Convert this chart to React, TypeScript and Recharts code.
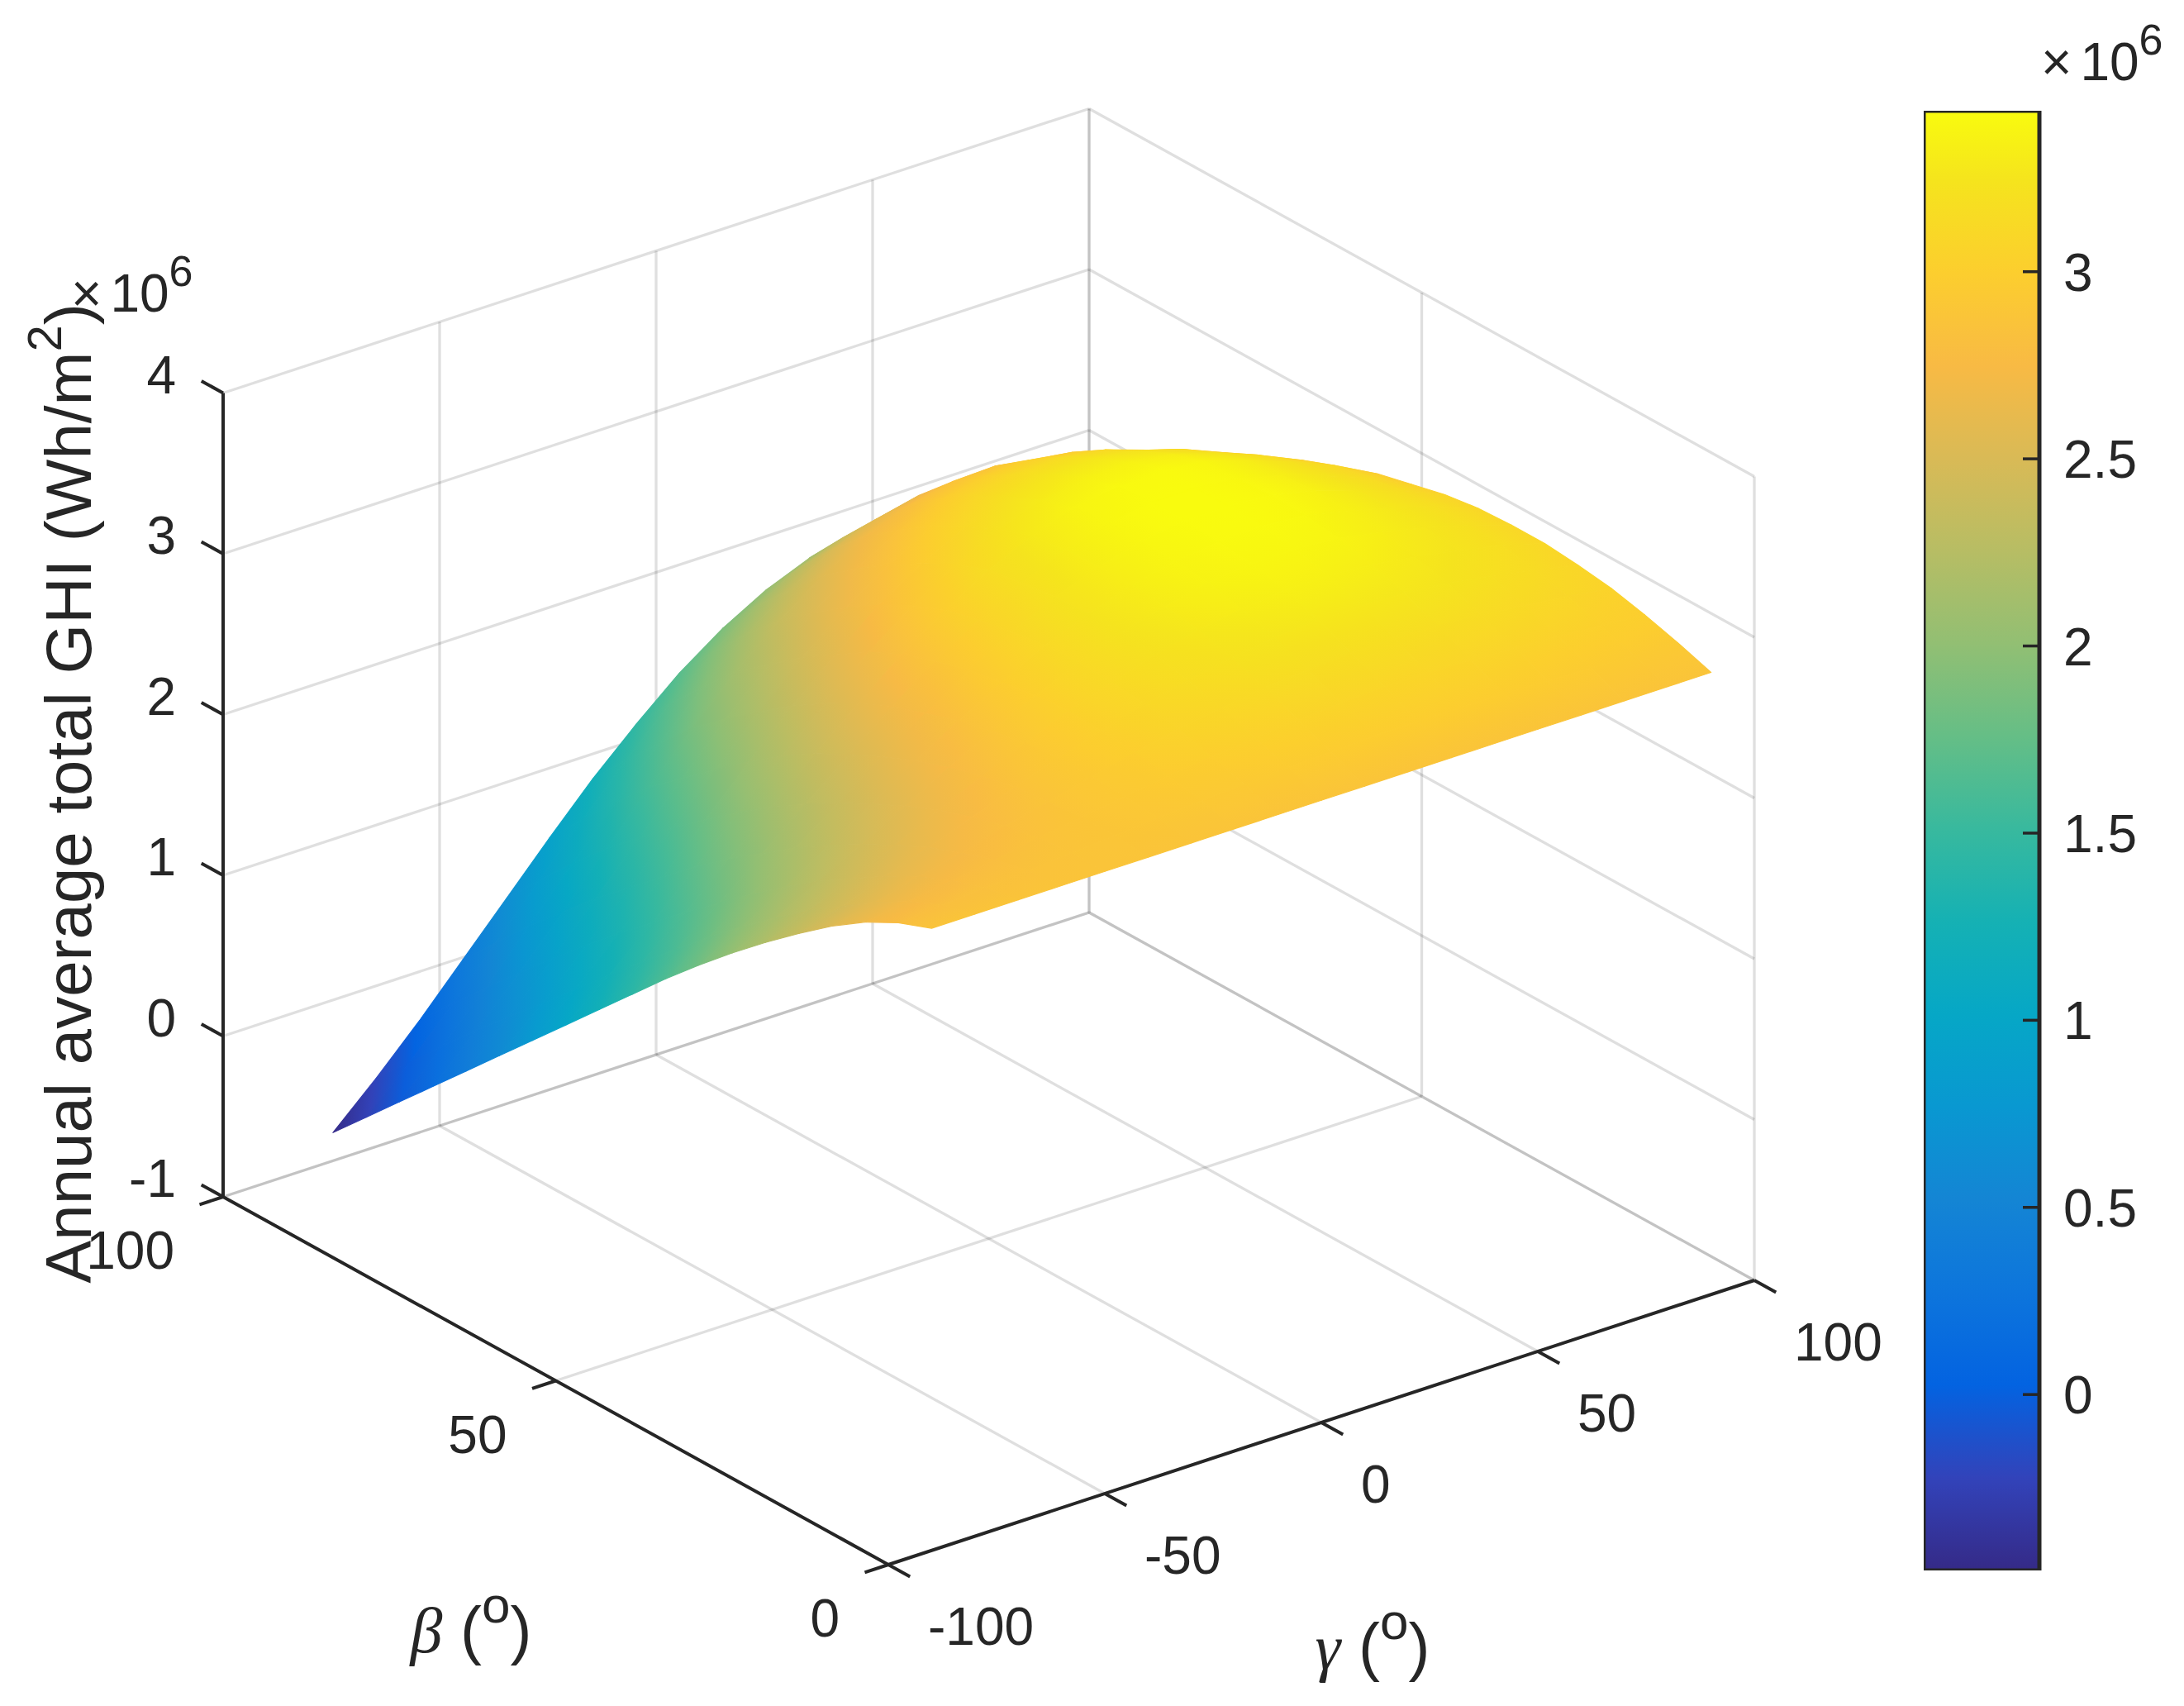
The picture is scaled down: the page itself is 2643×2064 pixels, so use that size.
import React from 'react';
import { ScatterChart, Scatter, XAxis, YAxis, ReferenceLine, ComposedChart, ReferenceArea } from 'recharts';

// tilt angle beta (deg), one row of GHI per value
const BETA = [0, 5, 10, 15, 20, 25, 30, 35, 40, 45, 50, 55, 60, 65, 70, 75, 80, 85, 90];
// azimuth gamma (deg), one column of GHI per value
const GAMMA = [-90, -80, -70, -60, -50, -40, -30, -20, -10, 0, 10, 20, 30, 40, 50, 60, 70, 80, 90];
// annual average total GHI, x10^6 Wh/m^2
const GHI = [
  [2.87, 2.87, 2.87, 2.87, 2.87, 2.87, 2.87, 2.87, 2.87, 2.87, 2.87, 2.87, 2.87, 2.87, 2.87, 2.87, 2.87, 2.87, 2.87],
  [2.79, 2.81, 2.83, 2.85, 2.87, 2.89, 2.91, 2.93, 2.94, 2.96, 2.97, 2.98, 2.98, 2.98, 2.98, 2.97, 2.96, 2.95, 2.94],
  [2.68, 2.72, 2.76, 2.8, 2.85, 2.89, 2.93, 2.97, 3.0, 3.03, 3.05, 3.07, 3.08, 3.08, 3.07, 3.06, 3.04, 3.02, 3.0],
  [2.54, 2.6, 2.67, 2.73, 2.81, 2.87, 2.94, 3.0, 3.06, 3.1, 3.14, 3.16, 3.18, 3.18, 3.17, 3.15, 3.12, 3.09, 3.05],
  [2.38, 2.46, 2.56, 2.65, 2.75, 2.85, 2.94, 3.02, 3.1, 3.16, 3.21, 3.25, 3.27, 3.27, 3.26, 3.23, 3.19, 3.14, 3.08],
  [2.21, 2.32, 2.43, 2.55, 2.68, 2.8, 2.92, 3.03, 3.12, 3.2, 3.27, 3.31, 3.34, 3.34, 3.32, 3.28, 3.23, 3.18, 3.1],
  [2.03, 2.16, 2.3, 2.44, 2.59, 2.74, 2.88, 3.01, 3.13, 3.23, 3.3, 3.36, 3.39, 3.39, 3.37, 3.32, 3.26, 3.19, 3.1],
  [1.84, 1.99, 2.15, 2.32, 2.49, 2.67, 2.83, 2.98, 3.12, 3.23, 3.32, 3.38, 3.41, 3.42, 3.4, 3.34, 3.27, 3.19, 3.09],
  [1.64, 1.81, 1.99, 2.19, 2.38, 2.58, 2.76, 2.94, 3.09, 3.22, 3.32, 3.39, 3.43, 3.43, 3.41, 3.35, 3.26, 3.17, 3.06],
  [1.43, 1.62, 1.82, 2.04, 2.26, 2.48, 2.69, 2.88, 3.05, 3.19, 3.31, 3.39, 3.43, 3.43, 3.4, 3.33, 3.24, 3.14, 3.01],
  [1.22, 1.43, 1.65, 1.89, 2.13, 2.37, 2.6, 2.81, 3.0, 3.16, 3.28, 3.37, 3.41, 3.42, 3.39, 3.31, 3.21, 3.1, 2.96],
  [1.01, 1.23, 1.47, 1.73, 1.98, 2.24, 2.48, 2.71, 2.91, 3.08, 3.21, 3.3, 3.35, 3.36, 3.32, 3.24, 3.14, 3.02, 2.87],
  [0.8, 1.03, 1.29, 1.55, 1.82, 2.09, 2.35, 2.58, 2.8, 2.97, 3.11, 3.21, 3.26, 3.27, 3.23, 3.15, 3.04, 2.91, 2.75],
  [0.59, 0.83, 1.1, 1.37, 1.65, 1.93, 2.2, 2.45, 2.67, 2.85, 3.0, 3.1, 3.15, 3.16, 3.12, 3.03, 2.92, 2.79, 2.62],
  [0.38, 0.63, 0.9, 1.19, 1.48, 1.76, 2.04, 2.29, 2.52, 2.71, 2.86, 2.97, 3.02, 3.03, 2.99, 2.9, 2.78, 2.65, 2.47],
  [0.17, 0.43, 0.7, 0.99, 1.29, 1.59, 1.87, 2.13, 2.36, 2.55, 2.71, 2.81, 2.87, 2.88, 2.83, 2.74, 2.61, 2.48, 2.3],
  [-0.04, 0.22, 0.49, 0.79, 1.09, 1.38, 1.66, 1.92, 2.16, 2.35, 2.51, 2.61, 2.67, 2.68, 2.64, 2.54, 2.42, 2.29, 2.11],
  [-0.25, 0.0, 0.28, 0.57, 0.87, 1.16, 1.44, 1.7, 1.93, 2.13, 2.28, 2.38, 2.44, 2.45, 2.41, 2.32, 2.19, 2.06, 1.88],
  [-0.46, -0.21, 0.06, 0.35, 0.64, 0.93, 1.21, 1.46, 1.69, 1.88, 2.03, 2.14, 2.19, 2.2, 2.16, 2.07, 1.95, 1.81, 1.64],
];

const BETA_TICKS = [0, 50, 100];
const GAMMA_TICKS = [-100, -50, 0, 50, 100];
const GHI_TICKS = [-1, 0, 1, 2, 3, 4];
const CBAR_TICKS = [0, 0.5, 1, 1.5, 2, 2.5, 3];
const CLIM = [-0.47, 3.43];

const B_LIM = [0, 100];
const G_LIM = [-100, 100];
const Z_LIM = [-1, 4];

const W = 2643;
const H = 2064;
const INK = '#262626';
const FONT = '"Liberation Sans", Arial, Helvetica, sans-serif';

// 3-d box: screen point of (beta min, gamma min, z min) and pixels per unit
const ORIGIN = { x: 1075, y: 1893 };
const STEP_B = { x: -8.05, y: -4.45 };
const STEP_G = { x: 5.24, y: -1.72 };
const STEP_Z = -194.5;
const TICK_LEN = 30;

// parula, every 4th entry of the 64 colour map
const PARULA = ['#352A87', '#3243BA', '#0363E1', '#0D75DC', '#1485D4', '#0998D1', '#06A7C6', '#15B1B4', '#38B99E',
  '#65BE86', '#92BF73', '#B7BD64', '#D9BA56', '#F8BA44', '#FCCE2E', '#F5E41D', '#F9FB0E'];
const PARULA_POS = [0, 4, 8, 12, 16, 20, 24, 28, 32, 36, 40, 44, 48, 52, 56, 60, 63].map(i => i / 63);

function hexToRgb(h: string) {
  return [parseInt(h.slice(1, 3), 16), parseInt(h.slice(3, 5), 16), parseInt(h.slice(5, 7), 16)];
}

function parula(v: number) {
  const t = Math.min(1, Math.max(0, (v - CLIM[0]) / (CLIM[1] - CLIM[0])));
  let i = 1;
  while (i < PARULA_POS.length - 1 && t > PARULA_POS[i]) i++;
  const f = (t - PARULA_POS[i - 1]) / (PARULA_POS[i] - PARULA_POS[i - 1]);
  const a = hexToRgb(PARULA[i - 1]);
  const b = hexToRgb(PARULA[i]);
  const c = a.map((x, k) => Math.round(x + (b[k] - x) * f));
  return `rgb(${c[0]},${c[1]},${c[2]})`;
}

function proj(b: number, g: number, z: number) {
  return {
    x: ORIGIN.x + STEP_B.x * (b - B_LIM[0]) + STEP_G.x * (g - G_LIM[0]),
    y: ORIGIN.y + STEP_B.y * (b - B_LIM[0]) + STEP_G.y * (g - G_LIM[0]) + STEP_Z * (z - Z_LIM[0]),
  };
}

function unit(v: { x: number; y: number }, s: number) {
  const l = Math.hypot(v.x, v.y);
  return { x: (v.x / l) * s, y: (v.y / l) * s };
}

// surface cells, far to near
const CELLS: any[] = [];
for (let i = 0; i < BETA.length - 1; i++) {
  for (let j = 0; j < GAMMA.length - 1; j++) {
    const idx = [[i, j], [i + 1, j], [i + 1, j + 1], [i, j + 1]];
    const zs = idx.map(([a, b]) => GHI[a][b]);
    const pts = idx.map(([a, b], k) => proj(BETA[a], GAMMA[b], zs[k]));
    const cx = pts.reduce((s, p) => s + p.x, 0) / 4;
    const cy = pts.reduce((s, p) => s + p.y, 0) / 4;
    const bm = (BETA[i] + BETA[i + 1]) / 2;
    const gm = (GAMMA[j] + GAMMA[j + 1]) / 2;
    const depth = -(STEP_B.y * bm + STEP_G.y * (gm - G_LIM[0]));
    const zc = zs.reduce((s, z) => s + z, 0) / 4;
    const zlo = Math.min(...zs);
    const zhi = Math.max(...zs);
    let grad = null;
    const d1 = { x: pts[2].x - pts[0].x, y: pts[2].y - pts[0].y };
    const d2 = { x: pts[3].x - pts[1].x, y: pts[3].y - pts[1].y };
    const dz1 = zs[2] - zs[0];
    const dz2 = zs[3] - zs[1];
    const det = d1.x * d2.y - d1.y * d2.x;
    if (zhi - zlo > 0.004 && Math.abs(det) > 1e-6) {
      const p = (dz1 * d2.y - d1.y * dz2) / det;
      const q = (d1.x * dz2 - d2.x * dz1) / det;
      const g2 = p * p + q * q;
      if (g2 > 1e-12) {
        grad = {
          x1: cx + (p * (zlo - zc)) / g2, y1: cy + (q * (zlo - zc)) / g2,
          x2: cx + (p * (zhi - zc)) / g2, y2: cy + (q * (zhi - zc)) / g2,
          c: [parula(zlo), parula((zlo + zhi) / 2), parula(zhi)],
        };
      }
    }
    CELLS.push({ x: cx, y: cy, id: `${i}-${j}`, depth, pts, grad, fill: parula(zc) });
  }
}
CELLS.sort((a, b) => b.depth - a.depth);

// back planes grid
const GRID: any[] = [];
BETA_TICKS.forEach(b => GRID.push([proj(b, G_LIM[0], Z_LIM[0]), proj(b, G_LIM[1], Z_LIM[0])]));
GAMMA_TICKS.forEach(g => GRID.push([proj(B_LIM[0], g, Z_LIM[0]), proj(B_LIM[1], g, Z_LIM[0])]));
GHI_TICKS.forEach(z => GRID.push([proj(B_LIM[1], G_LIM[0], z), proj(B_LIM[1], G_LIM[1], z)]));
GAMMA_TICKS.forEach(g => GRID.push([proj(B_LIM[1], g, Z_LIM[0]), proj(B_LIM[1], g, Z_LIM[1])]));
GHI_TICKS.forEach(z => GRID.push([proj(B_LIM[0], G_LIM[1], z), proj(B_LIM[1], G_LIM[1], z)]));
BETA_TICKS.forEach(b => GRID.push([proj(b, G_LIM[1], Z_LIM[0]), proj(b, G_LIM[1], Z_LIM[1])]));

// axis lines, ticks and tick labels
const AXES: any[] = [
  [proj(B_LIM[1], G_LIM[0], Z_LIM[0]), proj(B_LIM[1], G_LIM[0], Z_LIM[1])],
  [proj(B_LIM[0], G_LIM[0], Z_LIM[0]), proj(B_LIM[1], G_LIM[0], Z_LIM[0])],
  [proj(B_LIM[0], G_LIM[0], Z_LIM[0]), proj(B_LIM[0], G_LIM[1], Z_LIM[0])],
];
const LABELS: any[] = [];
const zTick = unit(STEP_B, TICK_LEN);
const bTick = unit({ x: -STEP_G.x, y: -STEP_G.y }, TICK_LEN);
const gTick = unit({ x: -STEP_B.x, y: -STEP_B.y }, TICK_LEN);
GHI_TICKS.forEach(z => {
  const p = proj(B_LIM[1], G_LIM[0], z);
  AXES.push([p, { x: p.x + zTick.x, y: p.y + zTick.y }]);
  LABELS.push({ kind: 'tick', x: p.x - 57, y: p.y, text: String(z), anchor: 'end' });
});
BETA_TICKS.forEach(b => {
  const p = proj(b, G_LIM[0], Z_LIM[0]);
  AXES.push([p, { x: p.x + bTick.x, y: p.y + bTick.y }]);
  LABELS.push({ kind: 'tick', x: p.x - 59, y: p.y + 87, text: String(b), anchor: 'end' });
});
GAMMA_TICKS.forEach(g => {
  const p = proj(B_LIM[0], g, Z_LIM[0]);
  AXES.push([p, { x: p.x + gTick.x, y: p.y + gTick.y }]);
  LABELS.push({ kind: 'tick', x: p.x + 48, y: p.y + 97, text: String(g), anchor: 'start' });
});
LABELS.push({ kind: 'ztitle', x: 110, y: 960 });
LABELS.push({ kind: 'angle', x: 570, y: 1999, text: 'β' });
LABELS.push({ kind: 'angle', x: 1661, y: 2019, text: 'γ' });
LABELS.push({ kind: 'exp', x: 86, y: 377 });
LABELS.push({ kind: 'exp', x: 2470, y: 97 });

const SurfaceCell = (props: any) => {
  const { cx, cy, payload } = props;
  if (cx == null || cy == null) return null;
  const dx = cx - payload.x;
  const dy = cy - payload.y;
  const pts = payload.pts.map((p: any) => `${p.x + dx},${p.y + dy}`).join(' ');
  const g = payload.grad;
  if (!g) {
    return <polygon points={pts} fill={payload.fill} stroke={payload.fill} strokeWidth={1.2} strokeLinejoin="round" />;
  }
  const id = `cell-${payload.id}`;
  return (
    <g>
      <defs>
        <linearGradient id={id} gradientUnits="userSpaceOnUse" x1={g.x1 + dx} y1={g.y1 + dy} x2={g.x2 + dx} y2={g.y2 + dy}>
          <stop offset="0" stopColor={g.c[0]} />
          <stop offset="0.5" stopColor={g.c[1]} />
          <stop offset="1" stopColor={g.c[2]} />
        </linearGradient>
      </defs>
      <polygon points={pts} fill={`url(#${id})`} stroke={`url(#${id})`} strokeWidth={1.2} strokeLinejoin="round" />
    </g>
  );
};

const PlotText = (props: any) => {
  const { cx, cy, payload } = props;
  if (cx == null || cy == null) return null;
  if (payload.kind === 'tick') {
    return <text x={cx} y={cy} textAnchor={payload.anchor} fontSize={64} fontFamily={FONT} fill={INK}>{payload.text}</text>;
  }
  if (payload.kind === 'ztitle') {
    return (
      <text x={cx} y={cy} transform={`rotate(-90 ${cx} ${cy})`} textAnchor="middle" fontSize={78} fontFamily={FONT} fill={INK}>
        Annual average total GHI (Wh/m<tspan dy={-36} fontSize={58}>2</tspan><tspan dy={36}>)</tspan>
      </text>
    );
  }
  if (payload.kind === 'angle') {
    return (
      <text x={cx} y={cy} textAnchor="middle" fontSize={78} fontFamily={FONT} fill={INK}>
        <tspan fontStyle="italic" fontFamily='"Liberation Serif", "DejaVu Serif", serif'>{payload.text}</tspan> (<tspan dy={-36} fontSize={62}>o</tspan><tspan dy={36}>)</tspan>
      </text>
    );
  }
  if (payload.kind === 'exp') {
    return (
      <text x={cx} y={cy} fontSize={64} fontFamily={FONT} fill={INK}>
        ×<tspan dx={10}>10</tspan><tspan dy={-31} fontSize={52}>6</tspan>
      </text>
    );
  }
  return null;
};

const CbarTick = (props: any) => {
  const { x, y, payload } = props;
  return (
    <g>
      <line x1={x - 20} y1={y} x2={x} y2={y} stroke={INK} strokeWidth={3.5} />
      <text x={x + 29} y={y} dy={23} fontSize={64} fontFamily={FONT} fill={INK}>{String(payload.value)}</text>
    </g>
  );
};

const CbarRect = (props: any) => {
  const { x, y, width, height } = props;
  return (
    <g>
      <defs>
        <linearGradient id="parula-bar" x1="0" y1="1" x2="0" y2="0">
          {PARULA.map((c, i) => <stop key={i} offset={PARULA_POS[i]} stopColor={c} />)}
        </linearGradient>
      </defs>
      <rect x={x} y={y} width={width} height={height} fill="url(#parula-bar)" stroke={INK} strokeWidth={5} />
    </g>
  );
};

export default function App() {
  return (
    <div style={{ position: 'absolute', left: 0, top: 0, width: W, height: H, background: '#fff' }}>
      <ScatterChart width={W} height={H} margin={{ top: 0, right: 0, bottom: 0, left: 0 }}>
        <XAxis type="number" dataKey="x" domain={[0, W]} hide allowDataOverflow />
        <YAxis type="number" dataKey="y" domain={[0, H]} reversed hide allowDataOverflow />
        {GRID.map((s, i) => (
          <ReferenceLine key={`g${i}`} segment={s} stroke={INK} strokeOpacity={0.15} strokeWidth={3.3} ifOverflow="visible" />
        ))}
        <Scatter data={CELLS} shape={SurfaceCell} isAnimationActive={false} />
        {AXES.map((s, i) => (
          <ReferenceLine key={`a${i}`} segment={s} stroke={INK} strokeWidth={4} ifOverflow="visible" />
        ))}
        <Scatter data={LABELS} shape={PlotText} isAnimationActive={false} />
      </ScatterChart>
      <div style={{ position: 'absolute', left: 2328, top: 134 }}>
        <ComposedChart width={315} height={1766} margin={{ top: 0, right: 0, bottom: 0, left: 0 }} data={CBAR_TICKS.map(v => ({ v }))}>
          <XAxis type="number" dataKey="v" domain={[0, 1]} hide allowDataOverflow />
          <YAxis type="number" orientation="right" domain={CLIM} ticks={CBAR_TICKS} interval={0} width={175}
            axisLine={false} tickLine={false} tickSize={0} tickMargin={0} tick={CbarTick} allowDataOverflow />
          <ReferenceArea x1={0} x2={1} y1={CLIM[0]} y2={CLIM[1]} shape={CbarRect} ifOverflow="visible" />
        </ComposedChart>
      </div>
    </div>
  );
}
